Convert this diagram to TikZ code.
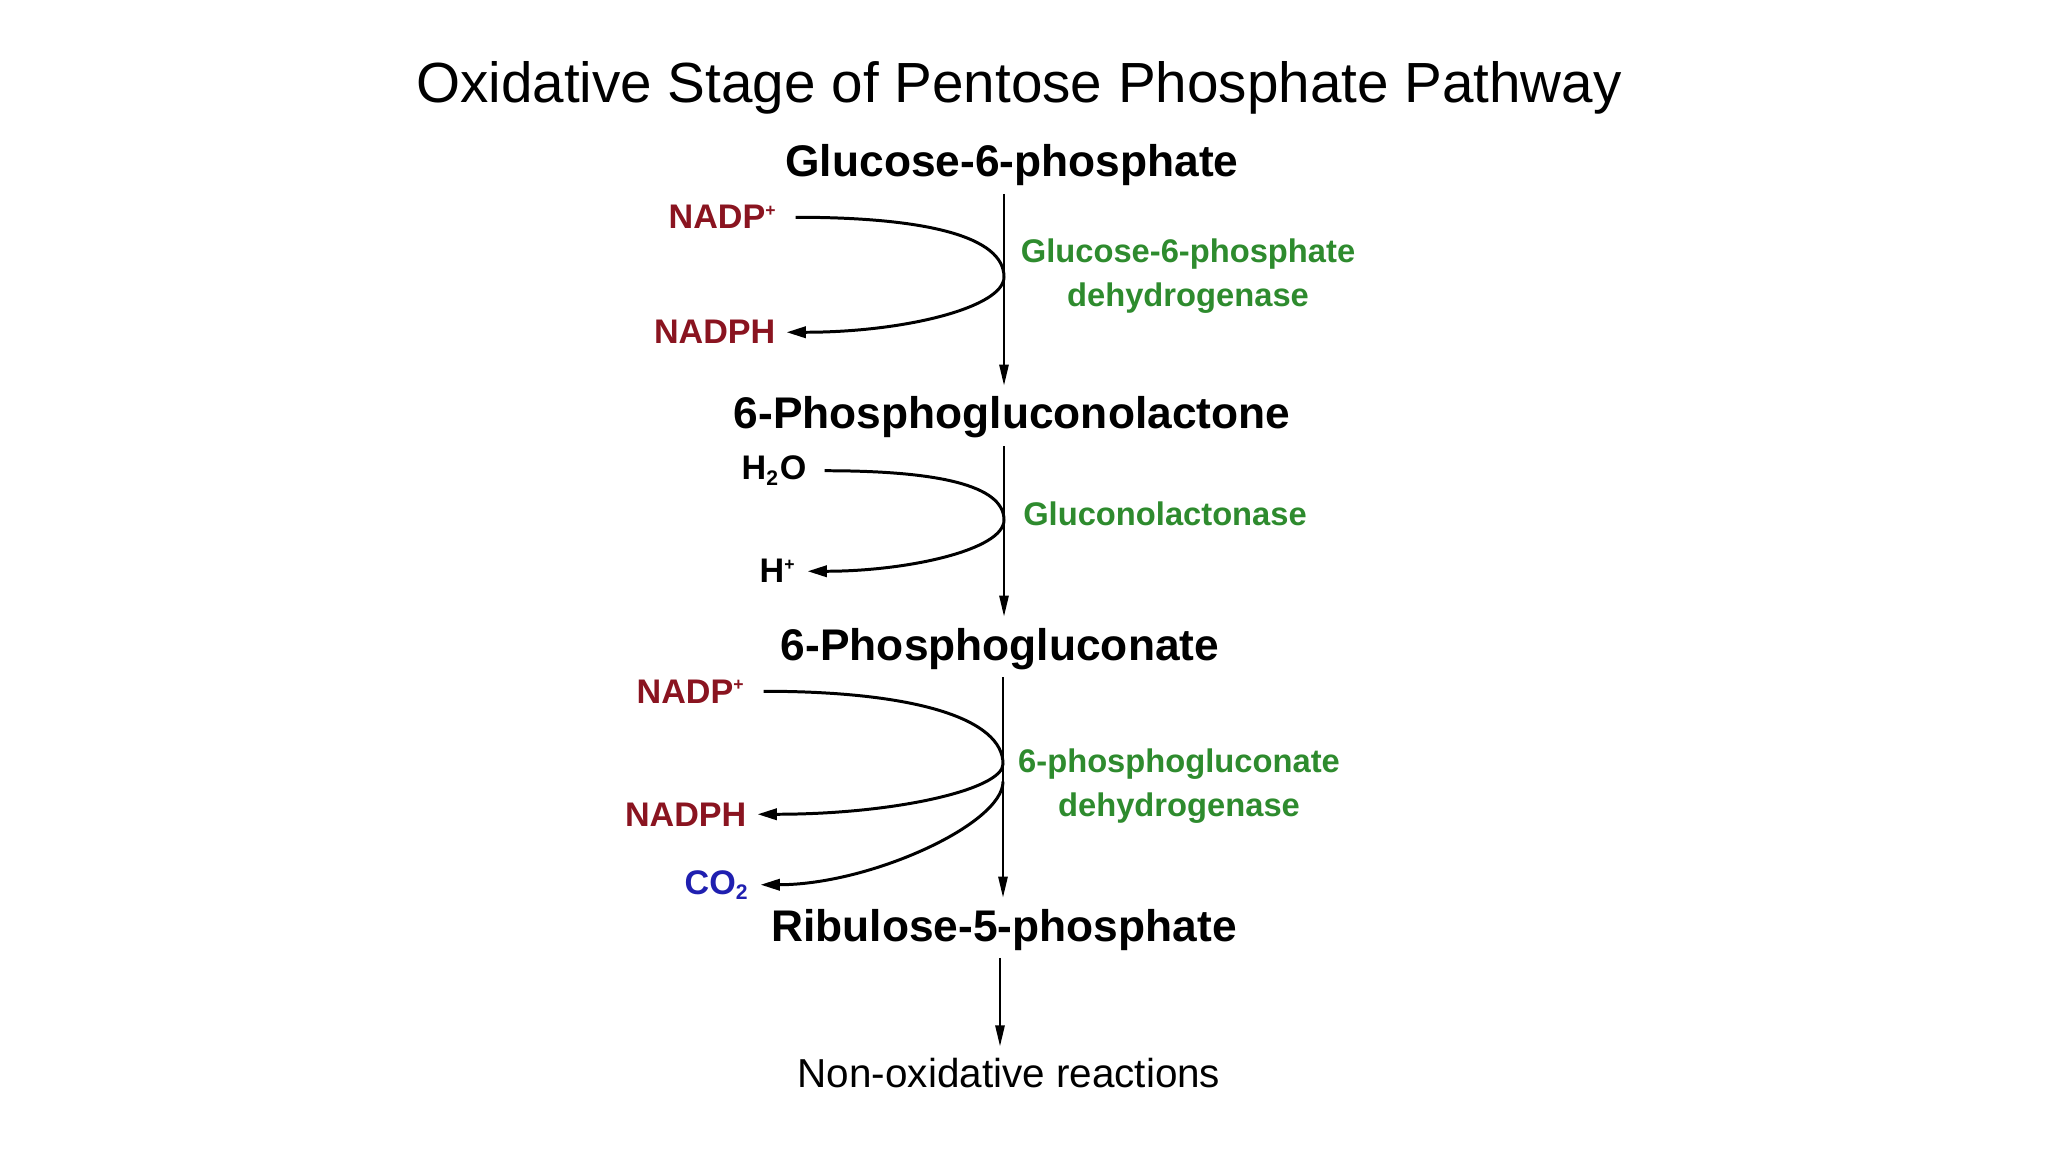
\documentclass[tikz,border=0pt]{standalone}
\usepackage{fontspec}
\setmainfont{Liberation Sans}
\usetikzlibrary{arrows.meta,positioning}
\definecolor{nadred}{HTML}{8A1420}
\definecolor{enzgreen}{HTML}{2E8B2E}
\definecolor{co2blue}{HTML}{1F1FB0}
\newcommand{\chgup}[1]{\textsuperscript{\fontsize{5}{6}\selectfont #1}}
\newcommand{\chgdn}[1]{\textsubscript{\fontsize{6}{7}\selectfont #1}}
\tikzset{
  heading/.style={font=\fontsize{16.1}{19}\selectfont,inner sep=0pt,anchor=base},
  compound/.style={font=\fontsize{12.6}{15}\selectfont\bfseries,inner sep=0pt,anchor=base},
  cofactor/.style={font=\fontsize{9.7}{12}\selectfont\bfseries,inner sep=0pt,anchor=base east},
  enzyme/.style={font=\fontsize{9.3}{12.7}\selectfont\bfseries,text=enzgreen,
                 align=center,inner sep=0pt},
  mainarr/.style={-{Triangle[length=6pt,width=2.6pt]},line width=0.7pt,
                  shorten <=2pt,shorten >=3pt},
  sidearr/.style={-{Triangle[length=5.5pt,width=3.2pt]},line width=0.85pt,
                  shorten <=5pt,shorten >=3pt}
}
\begin{document}
\begin{tikzpicture}[x=0.01cm,y=-0.01cm]
  \useasboundingbox[fill=white] (0,0) rectangle (2048,1152);
  \node[heading] (title) at (1019,103) {Oxidative Stage of Pentose Phosphate Pathway};
  \node[compound] (glc) at (1012,177) {Glucose-6-phosphate};
  \node[compound] (lac) at (1012,429) {6-Phosphogluconolactone};
  \node[compound] (pgn) at (1000,660) {6-Phosphogluconate};
  \node[compound] (ru5p) at (1004,941) {Ribulose-5-phosphate};
  \node[font=\fontsize{11.5}{14}\selectfont,inner sep=0pt,anchor=base] (nonox) at (1009,1087) {Non-oxidative reactions};
  % cofactors
  \node[cofactor,text=nadred] (nadpa) at (778,229) {NADP\chgup{+}};
  \node[cofactor,text=nadred] (nadpha) at (776,344) {NADPH};
  \node[cofactor] (h2o) at (807,480) {H\chgdn{2}O};
  \node[cofactor] (hplus) at (797,583) {H\chgup{+}};
  \node[cofactor,text=nadred] (nadpb) at (746,703) {NADP\chgup{+}};
  \node[cofactor,text=nadred] (nadphb) at (747,826) {NADPH};
  \node[cofactor,text=co2blue] (co2) at (750,894) {CO\chgdn{2}};
  % enzymes
  \node[enzyme] (enza) at (1188,276) {Glucose-6-phosphate\\dehydrogenase};
  \node[enzyme,anchor=base] (enzb) at (1165,525) {Gluconolactonase};
  \node[enzyme] (enzc) at (1179,786) {6-phosphogluconate\\dehydrogenase};
  % turning points on the main line
  \coordinate (ta) at (1004,277);
  \coordinate (tb) at (1004,520);
  \coordinate (tc) at (1003,764);
  \coordinate (td) at (1000,990);
  \draw[mainarr] (glc.south -| ta) -- (lac.north -| ta);
  \draw[mainarr] (lac.south -| tb) -- (pgn.north -| tb);
  \draw[mainarr] (pgn.south -| tc) -- (ru5p.north -| tc);
  \draw[mainarr] (ru5p.south -| td) -- (nonox.north -| td);
  \draw[sidearr] (nadpa.east) .. controls +(150,0) and +(0,-40) .. (ta)
                 .. controls +(0,30) and +(130,0) .. (nadpha.east);
  \draw[sidearr] (h2o.east) .. controls +(130,0) and +(0,-35) .. (tb)
                 .. controls +(0,30) and +(110,0) .. (hplus.east);
  \draw[sidearr] (nadpb.east) .. controls +(170,0) and +(0,-45) .. (tc)
                 .. controls +(0,25) and +(150,0) .. (nadphb.east);
  \draw[sidearr] (tc) .. controls +(0,60) and +(120,0) .. (co2.east);
\end{tikzpicture}
\end{document}
